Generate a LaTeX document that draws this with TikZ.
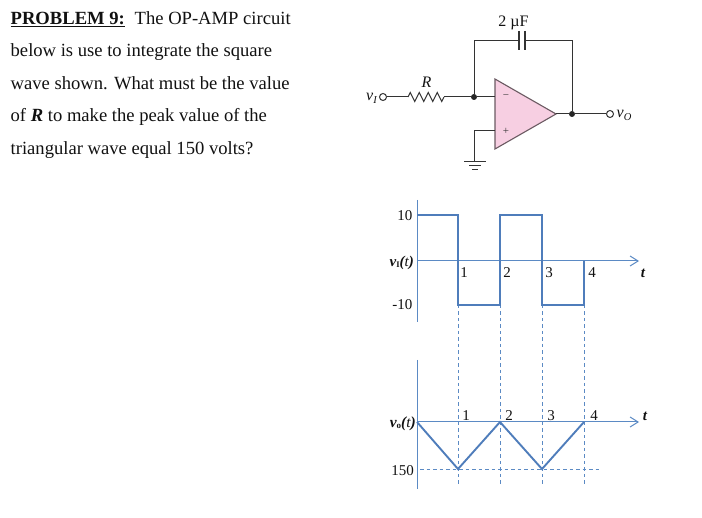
\documentclass[tikz,border=0pt]{standalone}
\usepackage{fontspec}
\setmainfont{Liberation Serif}
\usetikzlibrary{arrows.meta,decorations.pathmorphing}
\definecolor{wave}{HTML}{4F7DBB}
\definecolor{axisc}{HTML}{5B8AC4}
\definecolor{opfill}{HTML}{F7CFE2}
\definecolor{opline}{HTML}{6B5A62}
\definecolor{ckt}{HTML}{333333}
\definecolor{ink}{HTML}{111111}
\tikzset{
  x=1pt,y=-1pt,
  prose/.style={anchor=base west,inner sep=0pt,font=\fontsize{18.6}{18.6}\selectfont,text=ink},
  lab/.style={inner sep=0pt,font=\fontsize{16}{16}\selectfont,text=ink},
  tick/.style={inner sep=0pt,font=\fontsize{15}{15}\selectfont,text=ink},
  wire/.style={draw=ckt,line width=1pt},
  term/.style={circle,draw=ckt,fill=white,line width=1pt,minimum size=7pt,inner sep=0pt},
  junction/.style={circle,fill=black!85,minimum size=6pt,inner sep=0pt},
  axisline/.style={draw=axisc,line width=1pt},
  axisarrow/.style={axisline,-{Straight Barb[length=8pt,width=10pt]}},
  squarewave/.style={draw=wave,line width=2pt},
  guide/.style={draw=axisc,line width=0.8pt,dash pattern=on 3.5pt off 3pt},
}
\begin{document}
\begin{tikzpicture}
\useasboundingbox (0,0) rectangle (702,518);
% prose
\node[prose,font=\fontsize{18.6}{18.6}\selectfont\bfseries] (p0) at (10.5,24.5) {\underline{PROBLEM 9:}};
\node[prose] (p1) at (134.5,24.5) {The OP-AMP circuit};
\node[prose] (p2) at (10.5,57) {below is use to integrate the square};
\node[prose] (p3) at (10.5,89.5) {wave shown. What must be the value};
\node[prose] (p4) at (10.5,122) {of \textbf{\textit{R}} to make the peak value of the};
\node[prose] (p5) at (10.5,154.5) {triangular wave equal 150 volts?};
% op-amp
\coordinate (tl) at (495,79); \coordinate (bl) at (495,149); \coordinate (tip) at (556,114);
\coordinate (inm) at (495,97); \coordinate (inp) at (495,131);
\draw[fill=opfill,draw=opline,line width=1.1pt] (tl) -- (tip) -- (bl) -- cycle;
\node[inner sep=0pt,text=ckt,font=\fontsize{11}{11}\selectfont] (minus) at (506,97) {−};
\node[inner sep=0pt,text=ckt,font=\fontsize{11}{11}\selectfont] (plus) at (506,131) {+};
\node[term] (vi) at (383,97) {};
\node[term] (vo) at (610,114) {};
\node[junction] (j1) at (474,97) {};
\node[junction] (j2) at (572,114) {};
\coordinate (r1) at (408,97); \coordinate (r2) at (444,97);
\draw[wire] (vi) -- (r1);
\draw[wire,decorate,decoration={zigzag,segment length=9pt,amplitude=4.5pt}] (r1) -- (r2);
\draw[wire] (r2) -- (j1) -- (inm);
\coordinate (c1) at (519,40.5); \coordinate (c2) at (525,40.5);
\draw[wire] (j1) |- (c1);
\draw[wire] (j2) |- (c2);
\draw[wire,line width=1.2pt] (519,31) -- (519,50) (525,31) -- (525,50);
\draw[wire] (tip) -- (j2) -- (vo);
\coordinate (gnd) at (474,161);
\draw[wire] (inp) -| (gnd);
\draw[wire,line width=1.2pt] (464,161.5) -- (486,161.5) (469,165.5) -- (481,165.5) (472,169.5) -- (478,169.5);
\node[lab] (cv) at (513.5,23) {2 µF};
\node[lab,font=\fontsize{16}{16}\selectfont\itshape] (rl) at (426.5,82) {R};
\node[lab,anchor=east,font=\fontsize{16}{16}\selectfont\itshape] (vil) at (377,98) {v\raisebox{-3pt}{\fontsize{10.5}{10.5}\selectfont I}};
\node[lab,anchor=west,font=\fontsize{16}{16}\selectfont\itshape] (vol) at (616.5,115) {v\raisebox{-3pt}{\fontsize{10.5}{10.5}\selectfont O}};
% guides
\coordinate (g1) at (458,486); \coordinate (g2) at (500,486); \coordinate (g3) at (542,486); \coordinate (g4) at (584,486);
\coordinate (l1) at (458,305); \coordinate (l2) at (500,305); \coordinate (l3) at (542,305); \coordinate (l4) at (584,305);
\foreach \i in {1,2,3,4} \draw[guide] (l\i) -- (g\i);
\coordinate (hs) at (420,469); \coordinate (he) at (601,469);
\draw[guide] (hs) -- (he);
% upper graph
\coordinate (a0) at (417,261); \coordinate (a1) at (639,261);
\draw[axisline] (417,200) -- (417,322);
\draw[axisarrow] (a0) -- (a1);
\draw[squarewave,line join=miter] (417,215) -- (458,215) -- (458,305) -- (500,305) -- (500,215) -- (542,215) -- (542,305) -- (584,305) -- (584,261);
\node[tick,anchor=east] (t10) at (412.5,216) {10};
\node[tick,anchor=east] (tm10) at (412.5,305) {-10};
\node[lab,anchor=east,font=\fontsize{15}{15}\selectfont\itshape\bfseries] (vit) at (414,262.5) {v\raisebox{-1.5pt}{\fontsize{8.5}{8.5}\selectfont\upshape I}(\textmd{t})};
\node[tick] (u1) at (464,273) {1};
\node[tick] (u2) at (507,273) {2};
\node[tick] (u3) at (549,273) {3};
\node[tick] (u4) at (592,273) {4};
\node[tick,font=\fontsize{15}{15}\selectfont\itshape\bfseries] (ut) at (643,273) {t};
% lower graph
\coordinate (b0) at (417,422); \coordinate (b1) at (639,422);
\draw[axisline] (417,360) -- (417,489);
\draw[axisarrow] (b0) -- (b1);
\draw[squarewave,line width=1.9pt,line join=miter] (417,422) -- (458,469) -- (500,422) -- (542,469) -- (584,422);
\node[tick,anchor=east] (t150) at (414,471) {150};
\node[lab,anchor=east,font=\fontsize{15.5}{15.5}\selectfont\itshape\bfseries] (vot) at (416,424) {v\raisebox{-1pt}{\fontsize{9}{9}\selectfont\upshape o}(\textmd{t})};
\node[tick] (w1) at (466,416) {1};
\node[tick] (w2) at (509,416) {2};
\node[tick] (w3) at (551,416) {3};
\node[tick] (w4) at (594,416) {4};
\node[tick,font=\fontsize{15}{15}\selectfont\itshape\bfseries] (wt) at (645,416) {t};
\end{tikzpicture}
\end{document}
